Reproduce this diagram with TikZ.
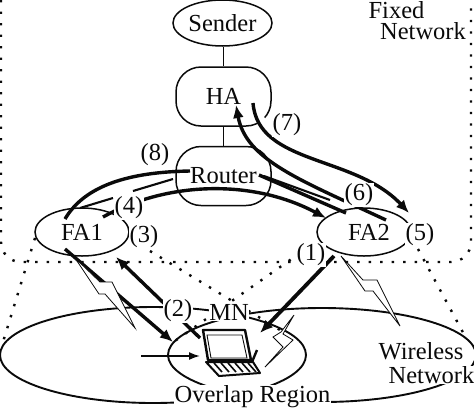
\documentclass[tikz,border=0pt]{standalone}
\usepackage{fontspec}
\usepackage{xcolor}
\setmainfont{Liberation Serif}
\usetikzlibrary{arrows.meta,shapes.geometric}
\definecolor{InkCol}{RGB}{10,10,10}
\tikzset{
  hoout/.style={line width=1.5pt, draw=InkCol},
  hocell/.style={ellipse, line width=1.9pt, draw=InkCol, inner sep=0pt},
  hobox/.style={rectangle, rounded corners=25pt, line width=1.5pt, draw=InkCol, fill=white, minimum width=95pt, minimum height=59pt},
  hofa/.style={ellipse, line width=1.5pt, draw=InkCol, inner sep=0pt, minimum width=94pt, minimum height=48pt},
  hodots/.style={line width=2.4pt, draw=InkCol, dash pattern=on 2.4pt off 9.1pt},
  hothick/.style={line width=3.4pt, draw=InkCol},
  homed/.style={line width=2.1pt, draw=InkCol},
  hotip/.style={-{Latex[length=13pt,width=11pt]}},
  hobolt/.style={line width=0.8pt, draw=InkCol, fill=white, line join=miter},
  holab/.style={font=\fontsize{24.5}{26}\selectfont, text=InkCol, inner sep=1pt},
  hotag/.style={holab, fill=white, inner sep=0.5pt}
}
\begin{document}
\begin{tikzpicture}[x=1pt,y=-1pt]
  \useasboundingbox (0,0) rectangle (474,408);
  % dotted areas
  \draw[hodots,rounded corners=20pt] (1,0) -- (1,262) -- (471,262) -- (471,0);
  \draw[hodots] (35,238) -- (3,342);
  \draw[hodots] (150,251) -- (280,330);
  \draw[hodots] (300,253) -- (172,343);
  \draw[hodots] (418,249) -- (466,338);
  % wireless cells
  \node[hocell,minimum width=306pt,minimum height=96pt] (CellA) at (153,355) {};
  \node[hocell,minimum width=308pt,minimum height=94pt] (CellB) at (322,355) {};
  % nodes
  \node[ellipse,hoout,fill=white,inner sep=0pt,minimum width=98pt,minimum height=46pt,holab] (Sender) at (222.5,23) {Sender};
  \node[hobox,holab,inner sep=0pt] (HA) at (223.5,96.5) {HA};
  \node[hobox,holab,inner sep=0pt] (Router) at (223.5,176) {Router};
  \node[hofa,holab] (FA1) at (82,232) {FA1\hspace{8pt}};
  \node[hofa,holab] (FA2) at (364,232) {\hspace{10pt}FA2};
  \draw[hoout] (Sender.south -| HA) -- (HA.north);
  \draw[hoout] (HA.south) -- (Router.north);
  % ends of the flows
  \coordinate (RtrL) at (190,171);
  \coordinate (RtrM) at (173,179);
  \coordinate (RtrR) at (259,175);
  \coordinate (FaLa) at (65,219);
  \coordinate (FaLb) at (103,217);
  \coordinate (FaLc) at (65,249);
  \coordinate (FaLd) at (116,257);
  \coordinate (FaRa) at (326,218);
  \coordinate (FaRb) at (386,220);
  \coordinate (FaRc) at (409,213);
  \coordinate (FaRd) at (334,256);
  \coordinate (FaRe) at (346,213);
  \coordinate (HaIn) at (236,105);
  \coordinate (HaOut) at (253,103);
  \coordinate (MobA) at (173,342);
  \coordinate (MobB) at (200,338);
  \coordinate (MobC) at (260,333);
  % flows
  \draw[hothick] (RtrL) .. controls (130,172) and (85,185) .. (FaLa);
  \draw[homed] (RtrM) -- (133,191);
  \draw[homed] (113,198) -- (80,208);
  \draw[hothick,hotip] (FaLb) .. controls (170,180) and (255,180) .. (FaRa);
  \draw[hothick] (RtrR) -- (FaRe);
  \draw[homed] (264,176) -- (330,200);
  \draw[hothick,hotip] (FaRb) .. controls (300,180) and (246,160) .. (HaIn);
  \draw[line width=7pt,draw=white] (255,107) -- (267,130);
  \draw[hothick,hotip] (HaOut) .. controls (258,165) and (355,155) .. (FaRc);
  \draw[line width=3.8pt,draw=InkCol,hotip] (FaRd) -- (MobC);
  \draw[hothick,hotip] (MobB) -- (FaLd);
  \draw[hothick,hotip] (FaLc) -- (MobA);
  \draw[line width=1.7pt,draw=InkCol,-{Latex[length=11pt,width=8pt]}] (141,356) -- (200,356);
  % radio links
  \draw[hobolt] (75,258) -- (100,282) -- (112,282) -- (135,328) -- (105,294) -- (99,294) -- cycle;
  \draw[hobolt] (341,256) -- (363,280) -- (377,280) -- (400,326) -- (373,291) -- (365,291) -- cycle;
  \draw[hobolt] (294,315) -- (281,332) -- (273,337) -- (283,347) -- (265,367) -- (293,340) -- (283,334) -- cycle;
  % laptop
  \draw[line width=2.4pt,draw=InkCol,fill=white,line join=round] (203,330) -- (245,330) -- (251,360) -- (208,360) -- cycle;
  \draw[line width=0.9pt,draw=InkCol] (207,335) -- (242,335) -- (247,358) -- (211,358) -- cycle;
  \draw[line width=2pt,draw=InkCol,fill=white,line join=round] (206,362) -- (253,362) -- (260,373) -- (219,376) -- cycle;
  \draw[line width=1.6pt,draw=InkCol] (214,363) -- (222,372) (221,363) -- (229,372) (228,363) -- (236,372)
    (235,363) -- (243,372) (242,363) -- (250,372) (248,363) -- (256,372);
  \draw[line width=2.4pt,draw=InkCol] (252,362) -- (257,350);
  % labels
  \node[hotag] (Lab8) at (155,155) {(8)};
  \node[hotag] (Lab4) at (129,208) {(4)};
  \node[hotag] (Lab3) at (144,237) {(3)};
  \node[hotag] (Lab7) at (287,125) {(7)};
  \node[hotag] (Lab6) at (359,195) {(6)};
  \node[hotag] (Lab5) at (420,235) {(5)};
  \node[hotag] (Lab1) at (311,255) {(1)};
  \node[hotag] (Lab2) at (178,311) {(2)};
  \node[hotag] (MN) at (229,312) {MN};
  \node[font=\fontsize{24.5}{26}\selectfont,text=InkCol,inner sep=0pt,anchor=base] (FixedA) at (396.5,18) {Fixed};
  \node[holab,anchor=base] (FixedB) at (423,39) {Network};
  \node[hotag,anchor=base] (WirelessA) at (421,359) {Wireless};
  \node[hotag,anchor=base] (WirelessB) at (431.5,383) {Network};
  \node[hotag,anchor=base] (Overlap) at (252.5,402) {Overlap Region};
\end{tikzpicture}
\end{document}
